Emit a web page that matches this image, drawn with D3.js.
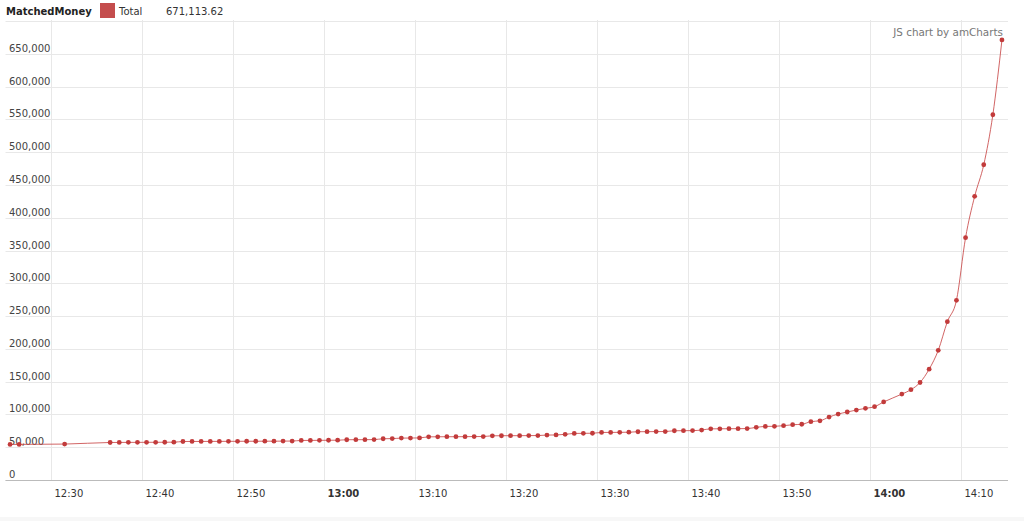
<!DOCTYPE html>
<html>
<head>
<meta charset="utf-8">
<script src="https://cdn.jsdelivr.net/npm/d3@7"></script>
<style>
  body { margin: 0; background: #fff; }
  svg { display: block; font-family: "DejaVu Sans", Verdana, sans-serif; }
</style>
</head>
<body>
<div id="chart"></div>
<script>
// minutes of the day (one point per minute, some gaps)
const times = [
  "12:25", "12:26", "12:31",
  "12:36", "12:37", "12:38", "12:39", "12:40", "12:41", "12:42", "12:43",
  "12:44", "12:45", "12:46", "12:47", "12:48", "12:49", "12:50", "12:51", "12:52", "12:53", "12:54", "12:55", "12:56",
  "12:57", "12:58", "12:59", "13:00", "13:01",
  "13:02", "13:03", "13:04", "13:05", "13:06", "13:07", "13:08", "13:09", "13:10",
  "13:11", "13:12", "13:13", "13:14", "13:15", "13:16", "13:17",
  "13:18", "13:19", "13:20", "13:21", "13:22", "13:23", "13:24", "13:25", "13:26",
  "13:27", "13:28", "13:29", "13:30", "13:31", "13:32", "13:33", "13:34", "13:35", "13:36", "13:37",
  "13:38", "13:39", "13:40", "13:41", "13:42", "13:43", "13:44", "13:45", "13:46",
  "13:47", "13:48", "13:49", "13:50", "13:51", "13:52", "13:53", "13:54", "13:55", "13:56", "13:57",
  "13:58", "13:59", "14:00", "14:01", "14:03", "14:04", "14:05", "14:06", "14:07", "14:08",
  "14:09", "14:10", "14:11", "14:12", "14:13", "14:14"
];

// MatchedMoney, Total
const matched = [
  54200, 54300, 54800,
  57200, 57300, 57400, 57400, 57500, 57500, 57600, 57700,
  58700, 58800, 58800, 58900, 58900, 59000, 59000, 59100, 59100, 59200, 59200, 59300, 59400,
  60300, 60400, 60500, 60600, 60700,
  61400, 61500, 61500, 61600, 62900, 63100, 63900, 64000, 64200,
  65800, 65900, 66000, 66000, 66100, 66200, 66300,
  67400, 67500, 67600, 67600, 67700, 67800, 68500, 68700, 69600,
  71000, 71200, 71300, 72500, 72600, 72700, 72900, 73600, 73700, 73800, 73900,
  75100, 75200, 75300, 76200, 78000, 78100, 78200, 78300, 78400,
  80300, 81700, 81900, 82800, 84300, 85000, 89000, 90300, 96000, 100600, 103700,
  106700, 109300, 111800, 119000, 131000, 137700, 148700, 169000, 197700, 241400,
  274000, 369500, 432600, 480800, 557000, 671113.62
];

const yTicks = [0, 50000, 100000, 150000, 200000, 250000, 300000, 350000, 400000, 450000, 500000, 550000, 600000, 650000, 700000];

const width = 1024;
const height = 521;
const plotLeft = 5.5, plotRight = 1006.5, plotTop = 21, plotBottom = 480;

const parse = d3.timeParse("%H:%M");
const data = times.map((t, i) => ({ t: parse(t), v: matched[i] }));

const svg = d3.select("#chart").append("svg")
    .attr("width", width)
    .attr("height", height);

// x: time, each point drawn in the middle of its minute
const x = d3.scaleTime()
    .domain([parse("12:25"), parse("14:15")])
    .range([plotLeft, plotRight]);
const xp = d => x(d3.timeSecond.offset(d.t, 30));

const y = d3.scaleLinear()
    .domain([0, 700000])
    .range([plotBottom, plotTop]);

// horizontal grid
svg.append("g")
    .selectAll("line")
    .data(yTicks)
    .join("line")
    .attr("x1", plotLeft).attr("x2", plotRight + 1.5)
    .attr("y1", d => Math.round(y(d)) + 0.5).attr("y2", d => Math.round(y(d)) + 0.5)
    .attr("stroke", "#e8e8e8");

// vertical grid + time labels
const xTicks = d3.timeMinute.every(10).range(parse("12:30"), parse("14:15"));
const xAxis = svg.append("g")
    .attr("transform", `translate(0,${plotBottom})`)
    .call(d3.axisBottom(x).tickValues(xTicks).tickSize(-(plotBottom - plotTop + 1)).tickFormat(d3.timeFormat("%H:%M")));
xAxis.select(".domain").remove();
xAxis.selectAll(".tick line").attr("stroke", "#e8e8e8");
xAxis.selectAll(".tick text")
    .attr("text-anchor", "start")
    .attr("x", 3)
    .attr("y", 17)
    .attr("dy", 0)
    .attr("fill", "#333")
    .style("font-size", "10px")
    .style("font-family", "DejaVu Sans, Verdana, sans-serif")
    .style("font-weight", d => d.getMinutes() === 0 ? "bold" : "normal");

// bottom axis line
svg.append("line")
    .attr("x1", plotLeft).attr("x2", plotRight + 1.5)
    .attr("y1", plotBottom + 0.5).attr("y2", plotBottom + 0.5)
    .attr("stroke", "#bbb");

// y labels inside the plot, above their grid line
svg.append("g")
    .selectAll("text")
    .data(yTicks.slice(0, -1))
    .join("text")
    .attr("x", 9)
    .attr("y", d => y(d) - 2)
    .attr("fill", "#444")
    .style("font-size", "10px")
    .text(d3.format(","));

// line
const line = d3.line()
    .x(xp)
    .y(d => y(d.v))
    .curve(d3.curveMonotoneX);

svg.append("path")
    .datum(data)
    .attr("fill", "none")
    .attr("stroke", "#c94a4a")
    .attr("stroke-opacity", 0.85)
    .attr("stroke-width", 1)
    .attr("d", line);

// bullets
svg.append("g")
    .selectAll("circle")
    .data(data)
    .join("circle")
    .attr("cx", xp)
    .attr("cy", d => y(d.v))
    .attr("r", 2.4)
    .attr("fill", "#c23b3b");

// legend
svg.append("text")
    .attr("x", 6).attr("y", 15)
    .attr("fill", "#222")
    .style("font-size", "10px")
    .style("font-weight", "bold")
    .text("MatchedMoney");
svg.append("rect")
    .attr("x", 100).attr("y", 3)
    .attr("width", 15).attr("height", 15)
    .attr("fill", "#c44d4d");
svg.append("text")
    .attr("x", 119).attr("y", 15)
    .attr("fill", "#333")
    .style("font-size", "10px")
    .text("Total");
svg.append("text")
    .attr("x", 166).attr("y", 15)
    .attr("fill", "#333")
    .style("font-size", "10px")
    .text(d3.format(",.2f")(matched[matched.length - 1]));

// credit
svg.append("text")
    .attr("x", 1003).attr("y", 36)
    .attr("text-anchor", "end")
    .attr("fill", "#777")
    .style("font-size", "10.4px")
    .text("JS chart by amCharts");

// bottom strip
svg.append("rect")
    .attr("x", 0).attr("y", 517)
    .attr("width", width).attr("height", 4)
    .attr("fill", "#f7f7f7");
</script>
</body>
</html>
